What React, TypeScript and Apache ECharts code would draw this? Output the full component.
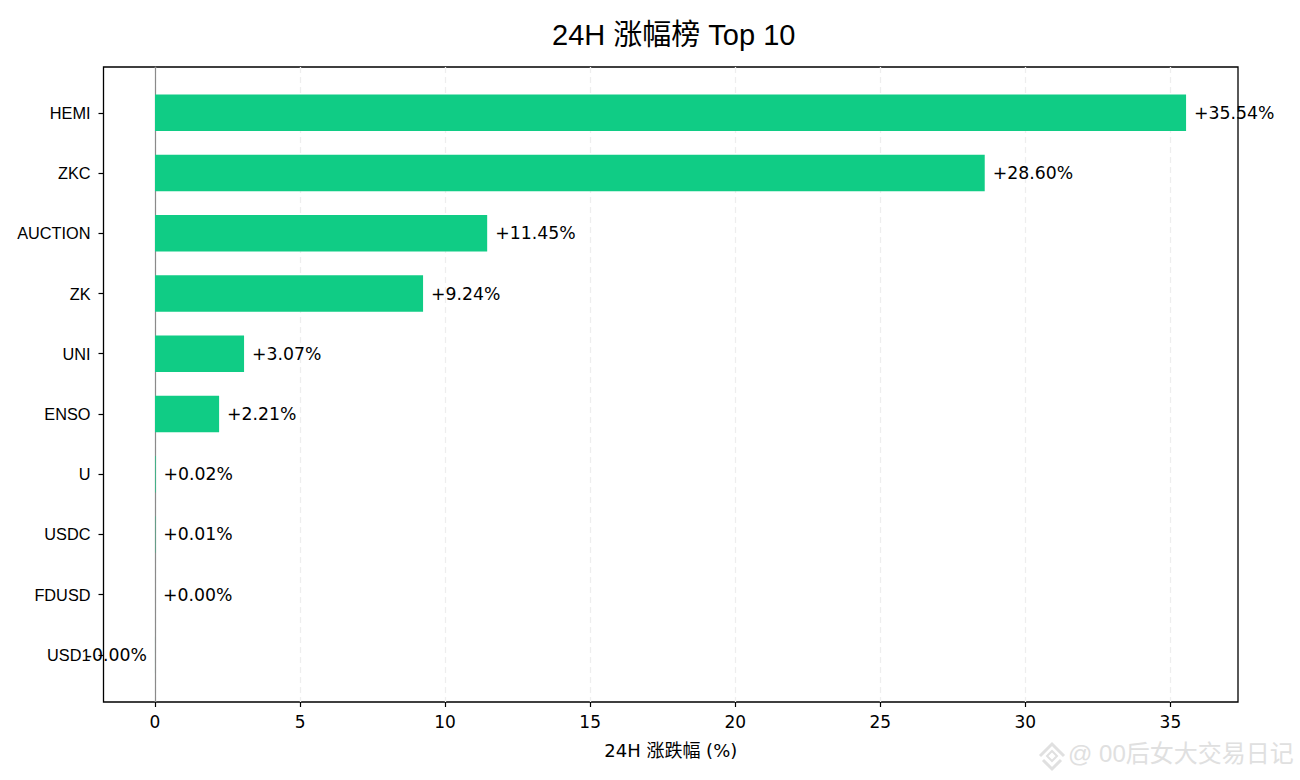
import React, { useEffect, useRef } from "react";
import * as echarts from "echarts";

const categories = ["HEMI", "ZKC", "AUCTION", "ZK", "UNI", "ENSO", "U", "USDC", "FDUSD", "USD1"];
const values = [35.54, 28.6, 11.45, 9.24, 3.07, 2.21, 0.02, 0.01, 0.0, -0.001];
const valueLabels = ["+35.54%", "+28.60%", "+11.45%", "+9.24%", "+3.07%", "+2.21%", "+0.02%", "+0.01%", "+0.00%", "-0.00%"];
const xTicks = [0, 5, 10, 15, 20, 25, 30, 35];
const titleText = "24H 涨幅榜 Top 10";
const xName = "24H 涨跌幅 (%)";
const watermark = "@ 00后女大交易日记";

const FONT = "'Liberation Sans', 'Noto Sans CJK SC', sans-serif";
const WIDE = "'DejaVu Sans', 'Noto Sans CJK SC', sans-serif";
const W = 1300, H = 780;
const left = 103.5, right = W - 1238, top = 67, bottom = H - 702;
const catTop = 82.7, catBottom = H - 685;
const WM = "#e0e0e0";

export default function App() {
  const ref = useRef<HTMLDivElement>(null);
  useEffect(() => {
    const chart = echarts.init(ref.current!, undefined, { renderer: "svg" });
    const xMin = -1.775, xMax = 37.33;
    chart.setOption({
      animation: false,
      backgroundColor: "#fff",
      title: {
        text: titleText, left: 547, top: 15,
        textStyle: { fontFamily: FONT, fontSize: 29, fontWeight: "normal", color: "#000" },
      },
      grid: [
        { left, right, top, bottom, show: true, borderColor: "#000", borderWidth: 1.3, backgroundColor: "transparent" },
        { left, right, top: catTop, bottom: catBottom },
      ],
      xAxis: [
        {
          type: "value", gridIndex: 0, min: xMin, max: xMax,
          name: xName, nameLocation: "middle", nameGap: 39,
          nameTextStyle: { fontFamily: WIDE, fontSize: 18, color: "#000" },
          axisLine: { show: false },
          axisTick: { show: true, length: 5, lineStyle: { color: "#000", width: 1.2 }, customValues: xTicks },
          axisLabel: { fontFamily: WIDE, fontSize: 17, color: "#000", margin: 11, customValues: xTicks },
          splitLine: { show: true, lineStyle: { color: "#eeeeee", type: [6, 4], width: 1.3 } },
        },
        { type: "value", gridIndex: 1, min: xMin, max: xMax, show: false },
      ],
      yAxis: [
        {
          type: "value", gridIndex: 0, min: 0, max: 1,
          axisLine: { show: true, onZero: true, lineStyle: { color: "#8a8a8a", width: 1.2 } },
          axisTick: { show: false }, axisLabel: { show: false }, splitLine: { show: false },
        },
        {
          type: "category", gridIndex: 1, inverse: true, data: categories,
          axisLine: { show: false, onZero: false },
          axisTick: { show: true, length: 5, alignWithLabel: true, lineStyle: { color: "#000", width: 1.2 } },
          axisLabel: { fontFamily: FONT, fontSize: 16.3, color: "#000", margin: 13 },
          splitLine: { show: false },
        },
      ],
      series: [
        {
          type: "bar", xAxisIndex: 1, yAxisIndex: 1, barWidth: 36.5,
          itemStyle: { color: "#10CC85" },
          data: values.map((value, i) => ({
            value,
            label: {
              show: true,
              position: value < 0 ? "left" : "right",
              distance: 8,
              formatter: valueLabels[i],
              fontFamily: WIDE, fontSize: 17.3, color: "#000",
            },
          })),
        },
      ],
      graphic: [
        { type: "text", x: 1068, y: 741, style: { text: watermark, fontFamily: FONT, fontSize: 24, fill: WM } },
        { type: "polyline", shape: { points: [[1040, 756], [1052, 744], [1064, 756]] }, style: { fill: "none", stroke: WM, lineWidth: 3 } },
        { type: "polyline", shape: { points: [[1043, 760], [1052, 769], [1061, 760]] }, style: { fill: "none", stroke: WM, lineWidth: 3 } },
        { type: "polygon", shape: { points: [[1052, 751], [1057, 756], [1052, 761], [1047, 756]] }, style: { fill: "none", stroke: WM, lineWidth: 2 } },
      ],
    });
    return () => chart.dispose();
  }, []);
  return <div ref={ref} style={{ position: "absolute", left: 0, top: 0, width: W, height: H }} />;
}
